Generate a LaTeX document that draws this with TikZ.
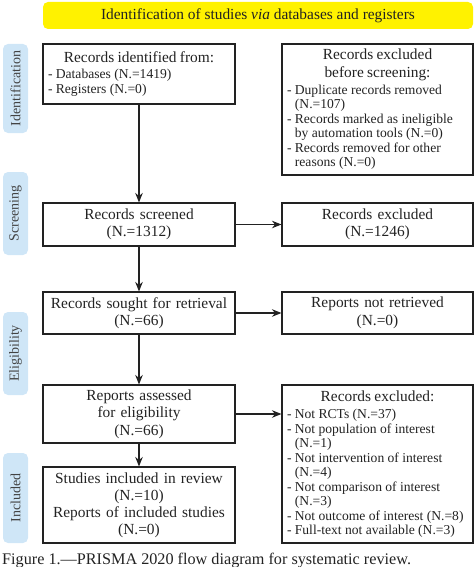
\documentclass[tikz,border=0pt]{standalone}
\usepackage{fontspec}
\setmainfont{Liberation Serif}
\usetikzlibrary{arrows.meta}
\definecolor{banY}{HTML}{FFF200}
\definecolor{sideB}{HTML}{CFE6F7}
\definecolor{ink}{HTML}{222222}
\newcommand\prHead{\fontsize{15.4}{17.5}\selectfont}
\newcommand\prList{\fontsize{13.6}{14.5}\selectfont}
\newcommand\prItem{\par\hangindent=7.9pt\hangafter=1\relax}
\begin{document}
\begin{tikzpicture}[x=1pt,y=-1pt,
  box/.style={draw=ink, line width=1.1pt, inner sep=0pt, anchor=center, text=ink},
  lcol/.style={minimum width=192pt, text width=182pt},
  rcol/.style={minimum width=191pt, text width=181pt},
  side/.style={fill=sideB, rounded corners=5pt, inner sep=0pt, text=ink!85, font=\fontsize{14}{15}\selectfont},
  arr/.style={-{Stealth[length=9.5pt,width=7.5pt]}, line width=1.1pt, draw=ink}]
\useasboundingbox (0,0) rectangle (474,567);

\node[fill=banY, rounded corners=5pt, minimum width=430pt, minimum height=27pt, inner sep=0pt, font=\prHead, text=ink] (banner) at (258,15.5) {Identification of studies \emph{via} databases and registers};

\node[side, rotate=90, minimum width=89pt, minimum height=25pt] (sIdent) at (15.5,88.5) {Identification};
\node[side, rotate=90, minimum width=83pt, minimum height=25pt] (sScreen) at (15.5,213.5) {Screening};
\node[side, rotate=90, minimum width=83pt, minimum height=25pt] (sElig) at (15.5,353.5) {Eligibility};
\node[side, rotate=90, minimum width=90pt, minimum height=25pt] (sIncl) at (15.5,498) {Included};

\node[box, lcol, minimum height=60pt] (ident) at (139,74) {\centering\prHead Records identified from:\par\vspace{1.5pt}\raggedright\prList - Databases (N.=1419)\\- Registers (N.=0)\par};

\node[box, rcol, minimum height=131pt] (excl1) at (377.5,109.5) {\centering\prHead Records excluded\\before screening:\par\vspace{2.5pt}\raggedright\prList
\prItem - Duplicate records removed\break (N.=107)
\prItem - Records marked as ineligible\break by automation tools (N.=0)
\prItem - Records removed for other\break reasons (N.=0)\par};

\node[box, lcol, minimum height=43pt, align=center, font=\prHead] (screened) at (139,224.5) {Records screened\\(N.=1312)};
\node[box, rcol, minimum height=43pt, align=center, font=\prHead] (excluded) at (377.5,224.5) {Records excluded\\(N.=1246)};

\node[box, lcol, minimum height=42pt, align=center, font=\prHead] (sought) at (139,313) {Records sought for retrieval\\(N.=66)};
\node[box, rcol, minimum height=42pt, align=center, font=\prHead] (notretr) at (377.5,313) {Reports not retrieved\\(N.=0)};

\node[box, lcol, minimum height=58pt, align=center, font=\prHead] (assessed) at (139,414) {Reports assessed\\for eligibility\\(N.=66)};

\node[box, rcol, minimum height=158pt] (excl2) at (377.5,464) {\centering\prHead Records excluded:\par\vspace{3pt}\raggedright\prList
\prItem - Not RCTs (N.=37)
\prItem - Not population of interest\break (N.=1)
\prItem - Not intervention of interest\break (N.=4)
\prItem - Not comparison of interest\break (N.=3)
\prItem - Not outcome of interest (N.=8)
\prItem - Full-text not available (N.=3)\par};

\node[box, lcol, minimum height=76pt, align=center, font=\fontsize{15.4}{17}\selectfont] (included) at (139,505) {Studies included in review\\(N.=10)\\Reports of included studies\\(N.=0)};

\node[anchor=base west, inner sep=0pt, font=\fontsize{16.2}{18}\selectfont, text=ink] (cap) at (2,564) {Figure 1.—PRISMA 2020 flow diagram for systematic review.};

\draw[arr] (ident) -- (screened);
\draw[arr] (screened) -- (sought);
\draw[arr] (sought) -- (assessed);
\draw[arr] (assessed) -- (included);
\draw[arr] (screened) -- (excluded);
\draw[arr] (sought) -- (notretr);
\draw[arr] (assessed.east) -- (assessed.east -| excl2.west);
\end{tikzpicture}
\end{document}
